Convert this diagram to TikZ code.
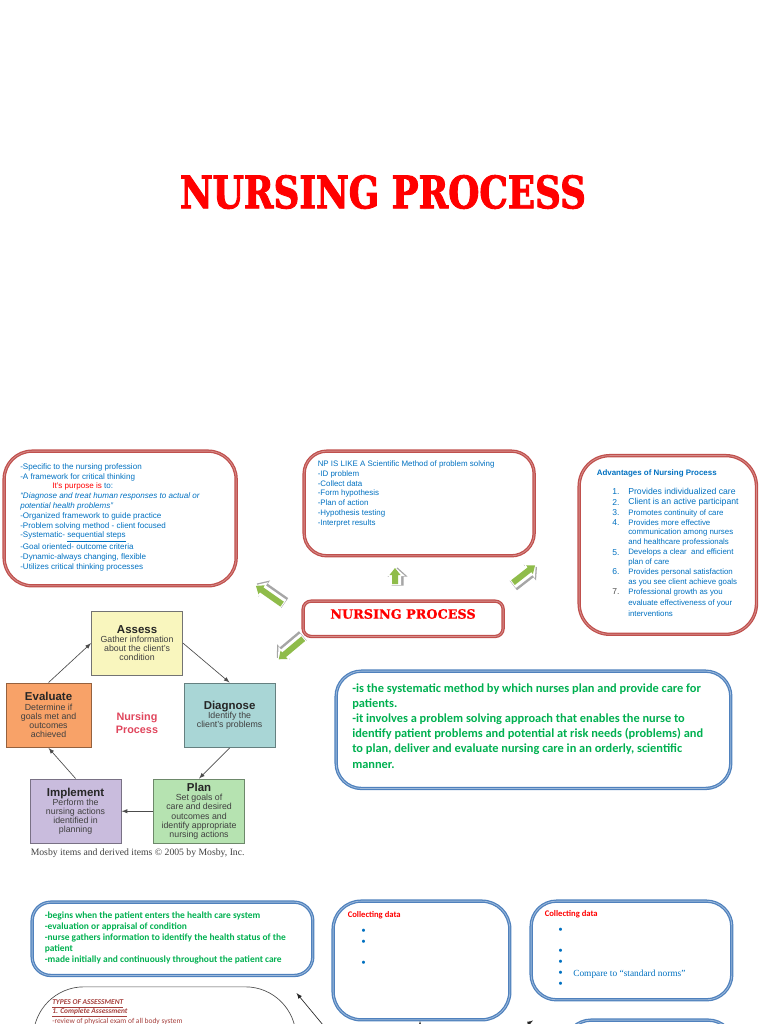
\documentclass[tikz,border=0pt]{standalone}
\usepackage{fontspec}
\setmainfont{Liberation Sans}
\newfontfamily\calfont{Carlito}
\newfontfamily\serfont{Liberation Serif}
\newfontfamily\titlefont[FakeStretch=.8,FakeBold=2]{DejaVu Serif}
\newfontfamily\hubfont[FakeBold=1]{DejaVu Serif}
\definecolor{BoxRed}{HTML}{C0504D}
\definecolor{BoxBlue}{HTML}{4F81BD}
\definecolor{TxtBlue}{HTML}{0070C0}
\definecolor{TxtGreen}{HTML}{00B050}
\definecolor{TxtBrown}{HTML}{A5403D}
\definecolor{ArrowClr}{HTML}{8FBC4A}
\definecolor{AssessClr}{HTML}{F9F6BE}
\definecolor{DiagnoseClr}{HTML}{A9D6D6}
\definecolor{PlanClr}{HTML}{B6E3B1}
\definecolor{ImplementClr}{HTML}{C9BCDD}
\definecolor{EvaluateClr}{HTML}{F8A268}
\definecolor{CycleRed}{HTML}{E0455C}
\tikzset{
  roundbox/.style={anchor=north west,inner sep=0pt,line width=.95pt,double distance=.6pt},
  redbox/.style={roundbox,draw=BoxRed,double=BoxRed!65},
  bluebox/.style={roundbox,draw=BoxBlue,double=BoxBlue!55},
  bodytxt/.style={anchor=north west,inner sep=0pt,align=left,text=TxtBlue},
  stepbox/.style={draw=black!55,line width=.6pt,minimum width=68.5pt,minimum height=48.5pt,inner sep=0pt,
    align=center,font=\fontsize{6.6pt}{6.9pt}\selectfont,text=black!75},
  cycle arrow/.style={-latex,black!70,line width=.5pt},
  pics/blockarrow/.style={code={
    \fill[black!35,shift={(-.5,2.5)}] (-#1,-6)--({#1-9},-6)--({#1-9},-10)--(#1,0)--({#1-9},10)--({#1-9},6)--(-#1,6)--cycle;
    \fill[white] (-#1,-6)--({#1-9},-6)--({#1-9},-10)--(#1,0)--({#1-9},10)--({#1-9},6)--(-#1,6)--cycle;
    \fill[ArrowClr] (-#1+1,-3)--({#1-8},-3)--({#1-8},-5.5)--({#1-1},0)--({#1-8},5.5)--({#1-8},3)--(-#1+1,3)--cycle;
  }}
}
\newcommand{\StepHead}[1]{{\fontsize{8.6pt}{9.4pt}\selectfont\bfseries\textcolor{black!85}{#1}}}
\begin{document}
\begin{tikzpicture}[x=.75pt,y=-.75pt]
\useasboundingbox (0,0) rectangle (768,1024);
\clip (0,0) rectangle (768,1024);

\node[anchor=center,inner sep=0pt,text=red] (title) at (383,192)
  {\titlefont\bfseries\fontsize{33.5pt}{36pt}\selectfont NURSING PROCESS};

% top row of boxes
\node[redbox,rounded corners=21pt,minimum width=174pt,minimum height=101pt] (purpose) at (3.5,450.5) {};
\node[bodytxt,font=\fontsize{6.05pt}{7.35pt}\selectfont] (purposetxt) at (20,463.2) {-Specific to the nursing profession\\
-A framework for critical thinking\\
\hspace*{24pt}\textcolor{red}{It's purpose is} to:\\
\textit{“Diagnose and treat human responses to actual or}\\
\textit{potential health problems”}\\
-Organized framework to guide practice\\
-Problem solving method - client focused\\
-Systematic- \underline{sequential steps}\\
-Goal oriented- outcome criteria\\
-Dynamic-always changing, flexible\\
-Utilizes critical thinking processes};

\node[redbox,rounded corners=17pt,minimum width=172.5pt,minimum height=78.5pt] (method) at (303.5,450.5) {};
\node[bodytxt,font=\fontsize{5.95pt}{7.4pt}\selectfont] (methodtxt) at (317.5,460.3) {NP IS LIKE A Scientific Method of problem solving\\
-ID problem\\
-Collect data\\
-Form hypothesis\\
-Plan of action\\
-Hypothesis testing\\
-Interpret results};

\node[redbox,rounded corners=23pt,minimum width=133pt,minimum height=134pt] (advantage) at (578.5,455) {};
\node[bodytxt,font=\fontsize{5.95pt}{7pt}\selectfont\bfseries] (advantagetxt) at (596.5,469.5) {Advantages of Nursing Process};
\foreach \ypos/\num in {491.5/1,502.5/2,513/3,523/4,552.5/5,572/6} {
  \node[anchor=west,inner sep=0pt,text=TxtBlue,font=\fontsize{6.4pt}{7pt}\selectfont] (num\num) at (612,\ypos) {\num.};
}
\node[anchor=west,inner sep=0pt,text=black!70,font=\fontsize{6.4pt}{7pt}\selectfont] (num7) at (612,592) {7.};
\foreach \ypos/\txt [count=\i] in {491.5/Provides individualized care,502.5/Client is an active participant,
  513/Promotes continuity of care,523/Provides more effective,532.5/communication among nurses,
  542.5/and healthcare professionals,552.5/Develops a clear~ and efficient,562.5/plan of care,
  572/Provides personal satisfaction,582/as you see client achieve goals,592/Professional growth as you,
  603/evaluate effectiveness of your,614/interventions} {
  \pgfmathsetmacro{\fsize}{\i<3 ? 6.5 : 5.9}
  \node[anchor=west,inner sep=0pt,text=TxtBlue,font=\fontsize{\fsize pt}{7pt}\selectfont] (adv\i) at (628,\ypos) {\txt};
}

% centre box and the block arrows
\node[redbox,rounded corners=6pt,minimum width=150pt,minimum height=26.5pt] (hub) at (302.5,600.5) {};
\node[inner sep=0pt,text=red,font=\hubfont\bfseries\fontsize{9.6pt}{10pt}\selectfont] (hubtxt) at (403,614) {NURSING PROCESS};
\pic[rotate=145] at (269,595) {blockarrow=17};
\pic[rotate=90] at (395,576) {blockarrow=9};
\pic[rotate=38] at (524,574) {blockarrow=15};
\pic[rotate=220] at (291,649) {blockarrow=17};

% the cycle
\node[stepbox,fill=AssessClr,anchor=north west] (assess) at (91,610.5) {\StepHead{Assess}\\Gather information\\about the client's\\condition};
\node[stepbox,fill=DiagnoseClr,draw=DiagnoseClr!60!black,anchor=north west] (diagnose) at (183.5,682.5) {\StepHead{Diagnose}\\Identify the\\client's problems};
\node[stepbox,fill=PlanClr,draw=PlanClr!60!black,anchor=north west] (plan) at (153,778.5) {\StepHead{Plan}\\Set goals of\\care and desired\\outcomes and\\identify appropriate\\nursing actions};
\node[stepbox,fill=ImplementClr,draw=ImplementClr!60!black,anchor=north west] (implement) at (29.5,778.5) {\StepHead{Implement}\\Perform the\\nursing actions\\identified in\\planning};
\node[stepbox,fill=EvaluateClr,draw=EvaluateClr!60!black,minimum width=64pt,anchor=north west] (evaluate) at (5.5,682.5) {\StepHead{Evaluate}\\Determine if\\goals met and\\outcomes\\achieved};
\draw[cycle arrow] (assess.east) -- (diagnose.north);
\draw[cycle arrow] (diagnose.south) -- (plan.north);
\draw[cycle arrow] (plan.west) -- (implement.east);
\draw[cycle arrow] (implement.north) -- (evaluate.south);
\draw[cycle arrow] (evaluate.north) -- (assess.west);
\node[align=center,inner sep=0pt,text=CycleRed,font=\fontsize{8.1pt}{9.3pt}\selectfont\bfseries] (cyclename) at (137,723) {Nursing\\Process};
\node[anchor=west,inner sep=0pt,text=black!75,font=\serfont\fontsize{7.27pt}{8pt}\selectfont] (mosby) at (30.5,853) {Mosby items and derived items \textcopyright{} 2005 by Mosby, Inc.};

% definition
\node[bluebox,rounded corners=19pt,minimum width=296pt,minimum height=88pt] (define) at (335.5,670.5) {};
\node[bodytxt,text=TxtGreen,font=\calfont\bfseries\fontsize{9.28pt}{11.4pt}\selectfont] (definetxt) at (352,683.2) {-is the systematic method by which nurses plan and provide care for\\
patients.\\
-it involves a problem solving approach that enables the nurse to\\
identify patient problems and potential at risk needs (problems) and\\
to plan, deliver and evaluate nursing care in an orderly, scientific\\
manner.};

% assessment row
\node[bluebox,rounded corners=14pt,minimum width=210.5pt,minimum height=55pt] (begins) at (31.5,901.5) {};
\node[bodytxt,text=TxtGreen,font=\calfont\bfseries\fontsize{7.09pt}{8.25pt}\selectfont] (beginstxt) at (44.5,911.5) {-begins when the patient enters the health care system\\
-evaluation or appraisal of condition\\
-nurse gathers information to identify the health status of the\\
patient\\
-made initially and continuously throughout the patient care};

\node[bluebox,rounded corners=21pt,minimum width=132.5pt,minimum height=89pt] (collectA) at (332.5,900.5) {};
\node[bodytxt,text=red,font=\calfont\bfseries\fontsize{6.45pt}{7pt}\selectfont] (collectAtxt) at (347.5,911) {Collecting data};
\foreach \ypos [count=\i] in {932,943,964} {
  \node[inner sep=0pt,text=TxtBlue,font=\fontsize{8.5pt}{9pt}\selectfont] (bulletA\i) at (363.5,\ypos) {•};
}

\node[bluebox,rounded corners=19pt,minimum width=150.5pt,minimum height=74pt] (collectB) at (530.5,900.5) {};
\node[bodytxt,text=red,font=\calfont\bfseries\fontsize{6.45pt}{7pt}\selectfont] (collectBtxt) at (544.5,910) {Collecting data};
\foreach \ypos [count=\i] in {931,952,963,974,985} {
  \node[inner sep=0pt,text=TxtBlue,font=\fontsize{8.5pt}{9pt}\selectfont] (bulletB\i) at (560.5,\ypos) {•};
}
\node[anchor=west,inner sep=0pt,text=TxtBlue,font=\serfont\fontsize{7.03pt}{8pt}\selectfont] (norms) at (573,974) {Compare to “standard norms”};

\node[bluebox,rounded corners=19pt,minimum width=126pt,minimum height=60pt] (collectC) at (565,1019.5) {};

\node[draw=black!70,line width=.5pt,rounded corners=38pt,anchor=north west,inner sep=0pt,minimum width=197pt,minimum height=90pt] (types) at (33,986.5) {};
\node[bodytxt,text=TxtBrown,font=\calfont\fontsize{5.6pt}{6.45pt}\selectfont] (typestxt) at (52,999.8) {\textbf{\textit{\underline{TYPES OF ASSESSMENT}}}\\
\textbf{\textit{\underline{1. Complete Assessment}}}\\
-review of physical exam of all body system};

% arrows coming up from below the page
\coordinate (fromA) at (328,1031);
\coordinate (toA) at (296.5,993);
\coordinate (fromB) at (420,1034);
\coordinate (toB) at (420,1021);
\coordinate (fromC) at (515,1032);
\coordinate (toC) at (533,1020.5);
\draw[cycle arrow,black!85] (fromA) -- (toA);
\draw[cycle arrow,black!85] (fromB) -- (toB);
\draw[cycle arrow,black!85] (fromC) -- (toC);
\end{tikzpicture}
\end{document}
